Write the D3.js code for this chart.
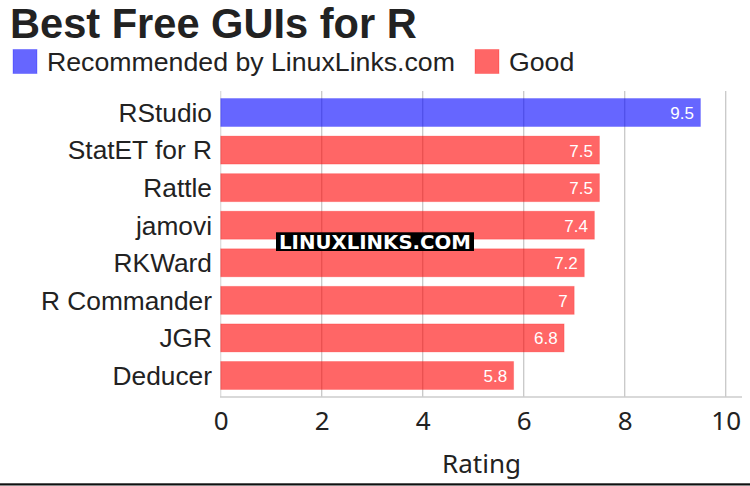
<!DOCTYPE html>
<html>
<head>
<meta charset="utf-8">
<script src="https://cdn.jsdelivr.net/npm/d3@7/dist/d3.min.js"></script>
<style>
  html, body { margin: 0; padding: 0; background: #fff; }
  svg { display: block; }
</style>
</head>
<body>
<svg id="chart" width="750" height="486"></svg>
<script>
const categories = ["RStudio", "StatET for R", "Rattle", "jamovi", "RKWard", "R Commander", "JGR", "Deducer"];
const ratings = [9.5, 7.5, 7.5, 7.4, 7.2, 7, 6.8, 5.8];
const groups = ["Recommended by LinuxLinks.com", "Good", "Good", "Good", "Good", "Good", "Good", "Good"];
const legendLabels = ["Recommended by LinuxLinks.com", "Good"];
const legendColors = ["#0000ff", "#ff0000"];
const xTicks = [0, 2, 4, 6, 8, 10];

const svg = d3.select("#chart");
svg.append("rect").attr("width", 750).attr("height", 486).attr("fill", "#fff");

const x = d3.scaleLinear().domain([0, 10]).range([220.7, 725.7]);
const y = d3.scaleBand().domain(categories).range([91, 397]).paddingInner(0.255).paddingOuter(0.2);
const color = d3.scaleOrdinal().domain(legendLabels).range(legendColors);

// Title
svg.append("text").attr("x", 10).attr("y", 37.9)
  .attr("font-family", "'Liberation Sans', Arial, sans-serif").attr("font-weight", "bold")
  .attr("font-size", 41.6).attr("fill", "#222").text("Best Free GUIs for R");

// Legend
const legendX = [13, 475];
legendLabels.forEach((l, i) => {
  svg.append("rect").attr("x", legendX[i]).attr("y", 49.5).attr("width", 24).attr("height", 24)
    .attr("fill", color(l)).attr("fill-opacity", 0.6)
    .attr("stroke", color(l)).attr("stroke-opacity", 0.25);
  svg.append("text").attr("x", legendX[i] + 34).attr("y", 71)
    .attr("font-family", "'Liberation Sans', Arial, sans-serif")
    .attr("font-size", 26.7).attr("fill", "#222").text(l);
});

// Gridlines
const grid = svg.append("g");
grid.selectAll("line").data(xTicks).join("line")
  .attr("x1", d => x(d)).attr("x2", d => x(d))
  .attr("y1", 91).attr("y2", 397)
  .attr("stroke", d => d === 0 ? "#ddd" : "#c8c8c8").attr("stroke-width", 1.3);

// Bars
svg.append("g").selectAll("rect").data(categories).join("rect")
  .attr("x", x(0)).attr("y", d => y(d))
  .attr("width", (d, i) => x(ratings[i]) - x(0))
  .attr("height", y.bandwidth())
  .attr("fill", (d, i) => color(groups[i])).attr("fill-opacity", 0.6)
  .attr("stroke", (d, i) => color(groups[i])).attr("stroke-opacity", 0.2);

// Value labels
svg.append("g").selectAll("text").data(categories).join("text")
  .attr("x", (d, i) => x(ratings[i]) - 6.5)
  .attr("y", d => y(d) + y.bandwidth() / 2 + 6.5)
  .attr("text-anchor", "end")
  .attr("font-family", "'Liberation Sans', Arial, sans-serif")
  .attr("font-size", 17).attr("fill", "#fff")
  .text((d, i) => ratings[i]);

// Y axis labels
svg.append("g").selectAll("text").data(categories).join("text")
  .attr("x", 212).attr("y", d => y(d) + y.bandwidth() / 2 + 9.3)
  .attr("text-anchor", "end")
  .attr("font-family", "'Liberation Sans', Arial, sans-serif")
  .attr("font-size", 26.3).attr("fill", "#222").text(d => d);

// X axis baseline
svg.append("line").attr("x1", 220).attr("x2", 742).attr("y1", 397).attr("y2", 397)
  .attr("stroke", "#ccc").attr("stroke-width", 1.3);

// X axis tick labels
const xAxis = d3.axisBottom(x).tickValues(xTicks).tickSize(0).tickPadding(0).tickFormat(d3.format("d"));
const gx = svg.append("g").attr("transform", "translate(0,397)").call(xAxis);
gx.select(".domain").remove();
gx.selectAll("text")
  .attr("y", 33).attr("dy", null)
  .attr("font-family", "'Noto Sans', sans-serif").attr("font-size", 26).attr("fill", "#222");

// X axis title
svg.append("text").attr("x", 481.5).attr("y", 473).attr("text-anchor", "middle")
  .attr("font-family", "'Noto Sans', sans-serif").attr("font-size", 26).attr("fill", "#222")
  .text("Rating");

// Watermark
const wm = svg.append("g");
wm.append("rect").attr("fill", "#000")
  .attr("x", 276).attr("y", 232.3).attr("width", 198).attr("height", 18.7);
wm.append("text").attr("x", 279).attr("y", 249)
  .attr("textLength", 192).attr("lengthAdjust", "spacingAndGlyphs")
  .attr("font-family", "'DejaVu Sans', sans-serif").attr("font-weight", "bold")
  .attr("font-size", 20).attr("fill", "#fff")
  .attr("stroke", "#000").attr("stroke-width", 0.6).attr("paint-order", "stroke")
  .text("LINUXLINKS.COM");

// Bottom rule
svg.append("rect").attr("x", 0).attr("y", 483.3).attr("width", 750).attr("height", 2.2).attr("fill", "#111");
</script>
</body>
</html>
